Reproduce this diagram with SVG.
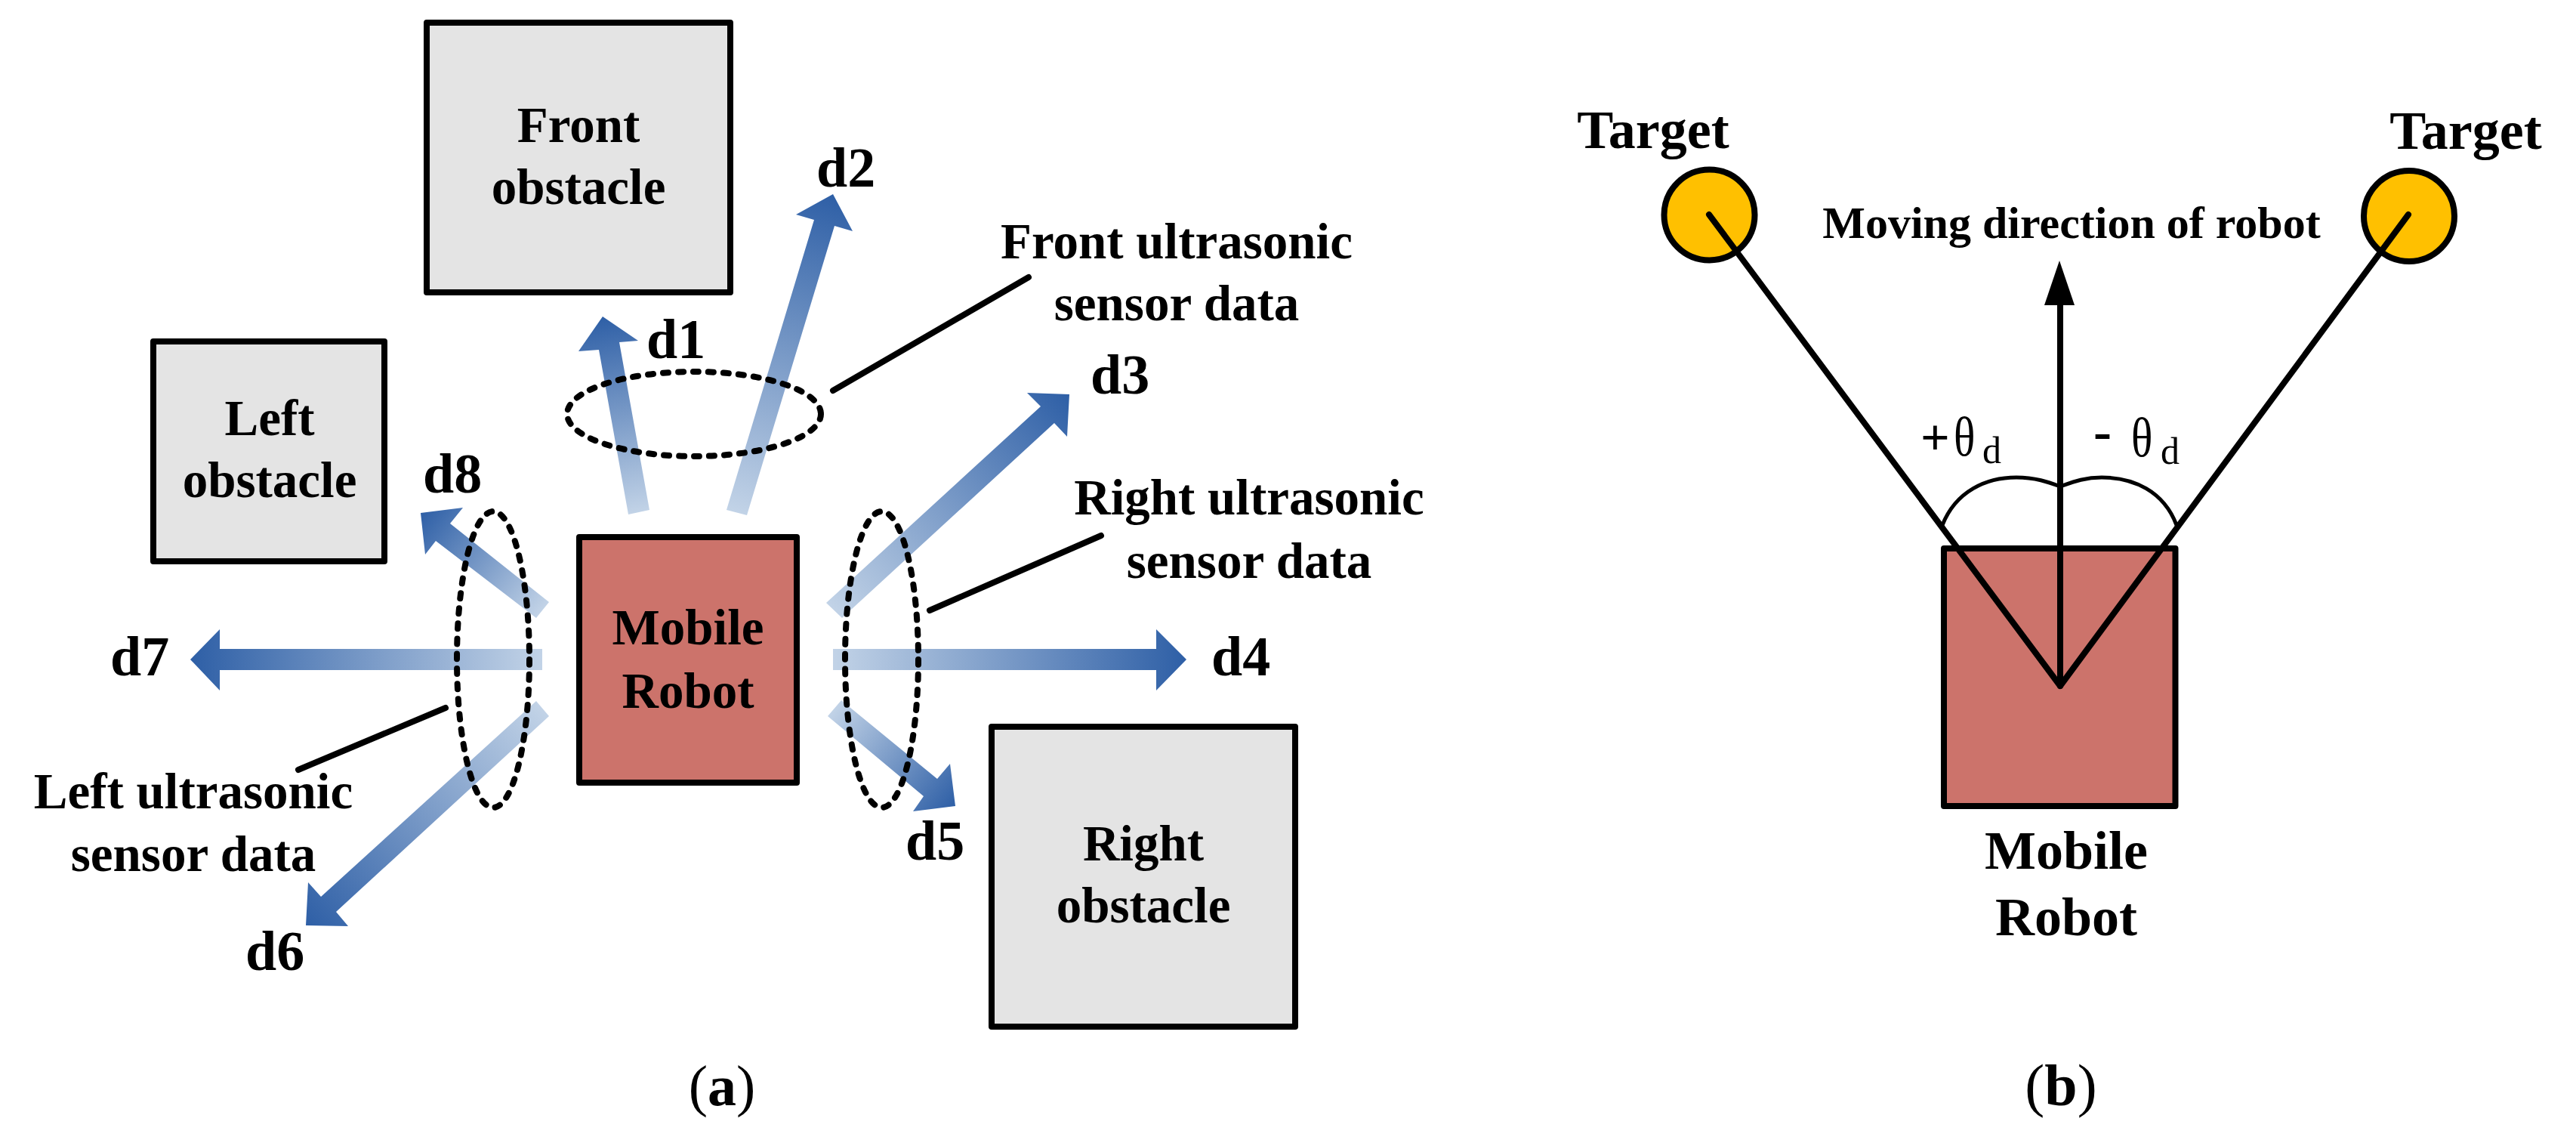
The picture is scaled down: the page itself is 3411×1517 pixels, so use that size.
<svg xmlns="http://www.w3.org/2000/svg" width="3411" height="1517" viewBox="0 0 3411 1517">
<style>
text{font-family:"Liberation Serif","Times New Roman",serif;fill:#000}
.l{font-size:67px;font-weight:700;text-anchor:middle}
.s{font-size:74px;font-weight:700}
.t{font-size:72px;font-weight:700;text-anchor:middle}
.box{fill:#e4e4e4;stroke:#000;stroke-width:8;stroke-linejoin:round}
.robot{fill:#cc736b;stroke:#000;stroke-width:8;stroke-linejoin:round}
.dot{fill:none;stroke:#000;stroke-width:8;stroke-dasharray:7 13;stroke-linecap:round}
.lead{fill:none;stroke:#000;stroke-width:8;stroke-linecap:round}
.ln{fill:none;stroke:#000;stroke-width:8;stroke-linecap:round;stroke-linejoin:round}
.arc{fill:none;stroke:#000;stroke-width:5}
.tgt{fill:#ffc000;stroke:#000;stroke-width:8}
</style>
<defs>
<linearGradient id="g"><stop offset="0" stop-color="#c2d3e7"/><stop offset="1" stop-color="#2e5fa6"/></linearGradient>
<linearGradient id="g1" href="#g" gradientUnits="userSpaceOnUse" x1="846" y1="678" x2="798" y2="419"/>
<linearGradient id="g2" href="#g" gradientUnits="userSpaceOnUse" x1="975" y1="678" x2="1103" y2="257"/>
<linearGradient id="g3" href="#g" gradientUnits="userSpaceOnUse" x1="1104" y1="808" x2="1416" y2="522"/>
<linearGradient id="g4" href="#g" gradientUnits="userSpaceOnUse" x1="1103" y1="873" x2="1571" y2="873"/>
<linearGradient id="g5" href="#g" gradientUnits="userSpaceOnUse" x1="1105" y1="937" x2="1265" y2="1067"/>
<linearGradient id="g6" href="#g" gradientUnits="userSpaceOnUse" x1="718" y1="938" x2="405" y2="1225"/>
<linearGradient id="g7" href="#g" gradientUnits="userSpaceOnUse" x1="718" y1="873" x2="252" y2="873"/>
<linearGradient id="g8" href="#g" gradientUnits="userSpaceOnUse" x1="718" y1="808" x2="557" y2="679"/>
</defs>
<rect width="3411" height="1517" fill="#fff"/>

<g id="front-obstacle"><rect class="box" x="565" y="30" width="402" height="357"/><text class="l" x="766" y="188">Front</text><text class="l" x="766" y="270">obstacle</text></g>
<g id="left-obstacle"><rect class="box" x="203" y="452" width="306" height="291"/><text class="l" x="357" y="576">Left</text><text class="l" x="357" y="658">obstacle</text></g>
<g id="right-obstacle"><rect class="box" x="1313" y="962" width="402" height="397"/><text class="l" x="1514" y="1139">Right</text><text class="l" x="1514" y="1221">obstacle</text></g>
<g id="mobile-robot-a"><rect class="robot" x="767" y="711" width="288" height="325"/><text class="l" x="911" y="853">Mobile</text><text class="l" x="911" y="937">Robot</text></g>

<g id="connectors-a">
<polygon fill="url(#g1)" points="832,681 860,675 820,453 845,451 798,419 766,465 793,463"/>
<polygon fill="url(#g2)" points="962,675 989,682 1105,299 1129,306 1103,257 1054,284 1078,291"/>
<polygon fill="url(#g3)" points="1094,798 1115,818 1396,560 1413,578 1416,522 1360,520 1378,538"/>
<polygon fill="url(#g4)" points="1103,859 1531,859 1531,833 1571,873 1531,914 1531,887 1103,887"/>
<polygon fill="url(#g5)" points="1114,927 1096,948 1223,1054 1209,1074 1265,1067 1258,1011 1241,1031"/>
<polygon fill="url(#g6)" points="710,928 727,948 445,1207 461,1226 405,1225 408,1168 425,1187"/>
<polygon fill="url(#g7)" points="718,859 291,859 291,833 252,873 291,914 291,887 718,887"/>
<polygon fill="url(#g8)" points="727,797 710,818 577,716 563,734 557,679 613,672 596,693"/>
<ellipse class="dot" cx="919" cy="548" rx="168" ry="56"/>
<ellipse class="dot" cx="653" cy="873" rx="48" ry="196"/>
<ellipse class="dot" cx="1167.5" cy="873" rx="48.5" ry="196"/>
<line class="lead" x1="1103" y1="517" x2="1362" y2="367"/>
<line class="lead" x1="1231" y1="808" x2="1458" y2="709"/>
<line class="lead" x1="590" y1="937" x2="395" y2="1019"/>
</g>

<g id="labels-a">
<text class="s" x="856" y="474">d1</text>
<text class="s" x="1081" y="247">d2</text>
<text class="s" x="1444" y="521">d3</text>
<text class="s" x="1604" y="894">d4</text>
<text class="s" x="1199" y="1138">d5</text>
<text class="s" x="325" y="1284">d6</text>
<text class="s" x="146" y="894">d7</text>
<text class="s" x="560" y="652">d8</text>
<text class="l" x="1558" y="342">Front ultrasonic</text>
<text class="l" x="1558" y="424">sensor data</text>
<text class="l" x="1654" y="681">Right ultrasonic</text>
<text class="l" x="1654" y="765">sensor data</text>
<text class="l" x="256" y="1070">Left ultrasonic</text>
<text class="l" x="256" y="1153">sensor data</text>
<text x="956" y="1463" font-size="76" text-anchor="middle">(<tspan font-weight="700">a</tspan>)</text>
</g>

<g id="target-left"><circle class="tgt" cx="2263.5" cy="284.5" r="60"/><text class="t" x="2189" y="196">Target</text></g>
<g id="target-right"><circle class="tgt" cx="3190" cy="286" r="60"/><text class="t" x="3265" y="197">Target</text></g>
<g id="mobile-robot-b"><rect class="robot" x="2574" y="726" width="306.5" height="341"/><text class="t" x="2736" y="1150">Mobile</text><text class="t" x="2736" y="1238">Robot</text></g>

<g id="connectors-b">
<polyline class="ln" points="2263,284 2728,908 3189,284"/>
<line class="ln" x1="2728" y1="908" x2="2728" y2="400" stroke-linecap="butt"/>
<polygon points="2727,345 2747,404 2707,404" fill="#000"/>
<path class="arc" d="M2572,695 C2590,650 2630,632 2670,632 C2695,632 2712,638 2728,644 C2745,638 2760,632 2783,632 C2825,632 2865,650 2882,695"/>
</g>

<g id="labels-b">
<text x="2743" y="315" font-size="60" font-weight="700" text-anchor="middle">Moving direction of robot</text>
<text x="2543" y="602" font-size="68" font-weight="700">+</text>
<text transform="translate(2587 603) scale(.8 1)" x="0" y="0" font-size="74">θ</text>
<text x="2625" y="613" font-size="50">d</text>
<text x="2772" y="595" font-size="72" font-weight="700">-</text>
<text transform="translate(2822 604) scale(.8 1)" x="0" y="0" font-size="74">θ</text>
<text x="2861" y="614" font-size="50">d</text>
<text x="2729" y="1463" font-size="78" text-anchor="middle">(<tspan font-weight="700">b</tspan>)</text>
</g>
</svg>
